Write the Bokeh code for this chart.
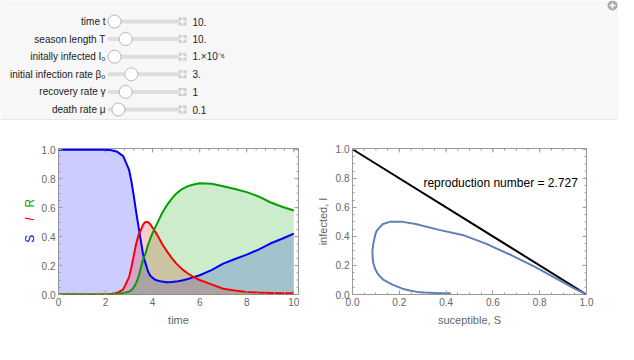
import numpy as np
from bokeh.plotting import figure
from bokeh.layouts import column, row
from bokeh.models import Range1d, SingleIntervalTicker, NumeralTickFormatter
from bokeh.embed import file_html
from bokeh.resources import INLINE
from bokeh.core.properties import value

# ---------------- data ----------------
t = [0, 0.5, 1, 1.5, 2, 2.25, 2.5, 2.75, 3, 3.1, 3.2, 3.3, 3.4, 3.5, 3.6, 3.7, 3.8, 3.9,
     4, 4.1, 4.2, 4.4, 4.6, 4.8, 5, 5.25, 5.5, 5.75, 6, 6.5, 7, 7.5, 8, 8.5, 9, 9.5, 10]
S = [1, 1, 1, 1, 0.999, 0.996, 0.985, 0.955, 0.86, 0.78, 0.68, 0.57, 0.47, 0.37, 0.27, 0.215,
     0.16, 0.13, 0.115, 0.103, 0.097, 0.089, 0.085, 0.086, 0.089, 0.097, 0.107, 0.12, 0.133,
     0.168, 0.213, 0.245, 0.275, 0.31, 0.352, 0.385, 0.42]
I = [0, 0, 0, 0, 0.001, 0.003, 0.012, 0.035, 0.12, 0.19, 0.27, 0.35, 0.41, 0.445, 0.485, 0.5,
     0.5, 0.485, 0.46, 0.437, 0.41, 0.35, 0.30, 0.255, 0.215, 0.175, 0.145, 0.12, 0.1,
     0.07, 0.04, 0.027, 0.018, 0.013, 0.011, 0.009, 0.008]
R = [0, 0, 0, 0, 0, 0.001, 0.003, 0.01, 0.02, 0.03, 0.05, 0.08, 0.12, 0.185, 0.245, 0.285,
     0.34, 0.385, 0.425, 0.46, 0.493, 0.561, 0.615, 0.659, 0.696, 0.728, 0.748, 0.76, 0.768,
     0.765, 0.747, 0.728, 0.707, 0.677, 0.637, 0.606, 0.58]

threshold_S = [0, 1]
threshold_I = [1, 0]
reproduction_number = "2.727"

slider_labels = ["time t", "season length T", "initally infected I\u2080",
                 "initial infection rate \u03b2\u2080", "recovery rate \u03b3", "death rate \u03bc"]
slider_values = ["10.", "10.", "1.\u00d710\u207b\u2076", "3.", "1", "0.1"]
slider_frac = [0.0, 0.2, 0.0, 0.3, 0.2, 0.07]

ylabel_parts = ["S", "I", "R"]

FONT = "Liberation Sans"
BLUE, RED, GREEN = "#0000ff", "#ff0000", "#00a000"
PHASE = "#5e81b5"
AX = "#9a9a9a"
TXT = "#666666"

# ---------------- controls panel ----------------
W = 618
ctrl = figure(width=W, height=120, x_range=Range1d(0, W), y_range=Range1d(120, 0),
              output_backend="svg", toolbar_location=None, min_border=0)
ctrl.axis.visible = False
ctrl.grid.visible = False
ctrl.outline_line_color = None
ctrl.background_fill_color = "#f7f7f7"
ctrl.border_fill_color = "#f7f7f7"

ys = [21 + i * 17.6 for i in range(len(slider_labels))]
n = len(ys)
ctrl.text(x=[105] * n, y=ys, text=slider_labels, text_font=value(FONT),
          text_font_size="10px", text_align="right", text_baseline="middle", text_color="#222222")
ctrl.segment(x0=[109] * n, x1=[176] * n, y0=ys, y1=ys, line_width=4,
             line_color="#dedede", line_cap="round")
ctrl.scatter(x=[114 + f * 56 for f in slider_frac], y=ys, size=13, fill_color="white",
             line_color="#b8b8b8", line_width=1)
ctrl.rect(x=[182] * n, y=ys, width=8, height=8, fill_color="#d0d0d0", line_color=None)
ctrl.scatter(x=[182] * n, y=ys, marker="cross", size=6, line_color="white", line_width=1.5)
ctrl.text(x=[192] * n, y=ys, text=slider_values, text_font=value(FONT),
          text_font_size="10px", text_align="left", text_baseline="middle", text_color="#222222")
ctrl.scatter(x=[612], y=[5], size=10, fill_color="#a8a8a8", line_color=None)
ctrl.scatter(x=[612], y=[5], marker="cross", size=6, line_color="white", line_width=1.5)
ctrl.segment(x0=[0], x1=[W], y0=[119.5], y1=[119.5], line_color="#d8d8d8", line_width=1)


def style(p, xr, yr, xint, xminor, yint, yminor, xfmt=None, yfmt=None):
    p.grid.visible = False
    p.outline_line_color = AX
    p.background_fill_color = "white"
    p.border_fill_color = "white"
    xa, ya = p.below[0], p.left[0]
    xa.ticker = SingleIntervalTicker(interval=xint, num_minor_ticks=xminor)
    ya.ticker = SingleIntervalTicker(interval=yint, num_minor_ticks=yminor)
    if xfmt:
        xa.formatter = NumeralTickFormatter(format=xfmt)
    if yfmt:
        ya.formatter = NumeralTickFormatter(format=yfmt)
    for ax in [xa, ya]:
        ax.axis_line_color = None
        ax.major_tick_line_color = AX
        ax.minor_tick_line_color = AX
        ax.major_tick_in = 4
        ax.major_tick_out = 0
        ax.minor_tick_in = 2
        ax.minor_tick_out = 0
        ax.major_label_text_font = FONT
        ax.major_label_text_color = TXT
        ax.major_label_text_font_size = "10px"
        ax.major_label_standoff = 3
        ax.axis_label_text_font = FONT
        ax.axis_label_text_color = TXT
        ax.axis_label_text_font_style = "normal"
        ax.axis_label_text_font_size = "11px"
    # mirrored ticks on the top and right frame edges
    xmaj = np.arange(xr[0], xr[1] + 1e-9, xint)
    xmin = np.arange(xr[0], xr[1] + 1e-9, xint / xminor)
    ymaj = np.arange(yr[0], yr[1] + 1e-9, yint)
    ymin = np.arange(yr[0], yr[1] + 1e-9, yint / yminor)
    top, right = p.y_range.end, p.x_range.end
    p.ray(x=xmin, y=[top] * len(xmin), length=2, length_units="screen", angle=-90,
          angle_units="deg", line_color=AX, line_width=1)
    p.ray(x=xmaj, y=[top] * len(xmaj), length=4, length_units="screen", angle=-90,
          angle_units="deg", line_color=AX, line_width=1)
    p.ray(x=[right] * len(ymin), y=ymin, length=2, length_units="screen", angle=180,
          angle_units="deg", line_color=AX, line_width=1)
    p.ray(x=[right] * len(ymaj), y=ymaj, length=4, length_units="screen", angle=180,
          angle_units="deg", line_color=AX, line_width=1)
    return xa, ya


# ---------------- y-label strip for time plot ----------------
sir = figure(width=38, height=218, x_range=Range1d(0, 38), y_range=Range1d(0, 1.008),
             output_backend="svg", toolbar_location=None, min_border_left=0, min_border_right=0,
             min_border_top=27, min_border_bottom=43)
sir.axis.visible = False
sir.grid.visible = False
sir.outline_line_color = None
sir.background_fill_color = "white"
sir.border_fill_color = "white"
for txt, yy, col, st in zip(ylabel_parts, [0.385, 0.52, 0.63], [BLUE, RED, GREEN],
                            ["normal", "italic", "normal"]):
    sir.text(x=[29], y=[yy], text=[txt], angle=np.pi / 2, text_color=col,
             text_font=value(FONT), text_font_size="12px", text_font_style=st,
             text_align="center", text_baseline="middle")

# ---------------- time plot ----------------
p1 = figure(width=271, height=218, x_range=Range1d(0, 10.2), y_range=Range1d(0, 1.008),
            output_backend="svg", toolbar_location=None,
            min_border_left=19, min_border_right=11, min_border_top=27, min_border_bottom=43)
xa1, ya1 = style(p1, (0, 10), (0, 1), 2, 5, 0.2, 4, None, "0.0")
xa1.axis_label = "time"
xa1.axis_label_standoff = 5
p1.varea(x=t, y1=0, y2=S, fill_color=BLUE, fill_alpha=0.2)
p1.varea(x=t, y1=0, y2=I, fill_color=RED, fill_alpha=0.2)
p1.varea(x=t, y1=0, y2=R, fill_color=GREEN, fill_alpha=0.2)
p1.line(t, S, line_color=BLUE, line_width=2)
p1.line(t, I, line_color=RED, line_width=2)
p1.line(t, R, line_color=GREEN, line_width=2)

# ---------------- phase plot ----------------
p2 = figure(width=309, height=218, x_range=Range1d(0, 1.0), y_range=Range1d(0, 1.005),
            output_backend="svg", toolbar_location=None,
            min_border_left=43, min_border_right=32, min_border_top=28, min_border_bottom=44)
xa2, ya2 = style(p2, (0, 1), (0, 1), 0.2, 4, 0.2, 4, "0.0", "0.0")
xa2.axis_label = "suceptible, S"
ya2.axis_label = "infected, I"
xa2.axis_label_standoff = 5
ya2.axis_label_standoff = 4
p2.line(threshold_S, threshold_I, line_color="black", line_width=2)
p2.line(S, I, line_color=PHASE, line_width=2)
p2.text(x=[0.303], y=[0.77], text=["reproduction number = " + reproduction_number],
        text_font=value(FONT), text_font_size="12px", text_color="black",
        text_align="left", text_baseline="middle")

strip = figure(width=W, height=6, output_backend="svg", toolbar_location=None, min_border=0,
               x_range=Range1d(0, 1), y_range=Range1d(0, 1))
strip.axis.visible = False
strip.grid.visible = False
strip.outline_line_color = None
strip.background_fill_color = "#efefef"
strip.border_fill_color = "#efefef"

layout = column(ctrl, row(sir, p1, p2, spacing=0), strip, spacing=0)
open("out.html", "w").write(file_html(layout, INLINE))
